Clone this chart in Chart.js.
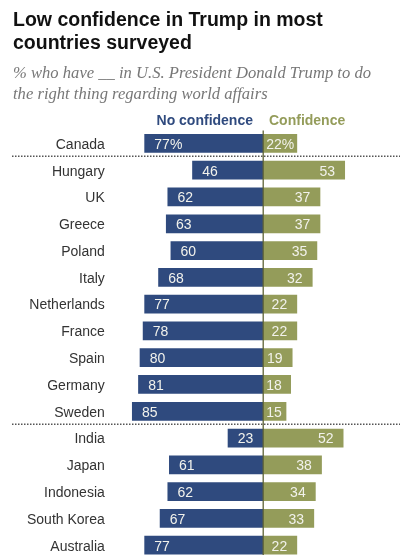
<!DOCTYPE html>
<html>
<head>
<meta charset="utf-8">
<script src="https://cdn.jsdelivr.net/npm/chart.js@4"></script>
<style>
  html, body { margin: 0; padding: 0; background: #fff; }
  #wrap { position: relative; width: 400px; height: 555px; overflow: hidden; }
  #chart { position: absolute; left: 0; top: 0; }
  .title { position: absolute; left: 13px; top: 8px; font-family: "Liberation Sans", Arial, sans-serif; font-weight: bold; font-size: 19.5px; line-height: 23.3px; color: #111; }
  .subtitle { position: absolute; left: 13px; top: 63px; font-family: "Liberation Serif", "DejaVu Serif", serif; font-style: italic; font-size: 16.6px; line-height: 20.5px; color: #777; }
  .hdr { position: absolute; top: 111px; font-family: "Liberation Sans", Arial, sans-serif; font-weight: bold; font-size: 14px; line-height: 18px; }
  .hdr.no { right: 147px; color: #2F4A7E; }
  .hdr.yes { left: 269px; color: #949C5A; }
</style>
</head>
<body>
<div id="wrap">
  <canvas id="chart" width="400" height="571"></canvas>
  <div class="title">Low confidence in Trump in most<br>countries surveyed</div>
  <div class="subtitle">% who have __ in U.S. President Donald Trump to do<br>the right thing regarding world affairs</div>
  <div class="hdr no">No confidence</div>
  <div class="hdr yes">Confidence</div>
</div>
<script>
const categories = ['Canada','Hungary','UK','Greece','Poland','Italy','Netherlands','France','Spain','Germany','Sweden','India','Japan','Indonesia','South Korea','Australia'];
const noConfidence = [77,46,62,63,60,68,77,78,80,81,85,23,61,62,67,77];
const confidence = [22,53,37,37,35,32,22,22,19,18,15,52,38,34,33,22];
const separatorsAfter = ['Canada','Sweden'];

const BLUE = '#2F4A7E';
const OLIVE = '#949C5A';

const valueLabels = {
  id: 'valueLabels',
  afterDatasetsDraw(chart) {
    const ctx = chart.ctx;
    ctx.save();
    ctx.font = '14px "Liberation Sans", Arial, sans-serif';
    ctx.fillStyle = '#F2F2EC';
    ctx.textBaseline = 'middle';
    const m0 = chart.getDatasetMeta(0);
    const m1 = chart.getDatasetMeta(1);
    m0.data.forEach((el, i) => {
      const t = noConfidence[i] + (i === 0 ? '%' : '');
      ctx.textAlign = 'left';
      ctx.fillText(t, el.x + 10, el.y + 1.5);
    });
    m1.data.forEach((el, i) => {
      const t = confidence[i] + (i === 0 ? '%' : '');
      const w = ctx.measureText(t).width;
      const x = Math.max(el.base + 3, el.x - 10 - w);
      ctx.textAlign = 'left';
      ctx.fillText(t, x, el.y + 1.5);
    });
    ctx.restore();
  }
};

const decorations = {
  id: 'decorations',
  afterDraw(chart) {
    const ctx = chart.ctx;
    const xs = chart.scales.x, ys = chart.scales.y;
    const area = chart.chartArea;
    ctx.save();
    ctx.strokeStyle = '#555';
    ctx.lineWidth = 1.5;
    ctx.setLineDash([1.5, 1.5]);
    separatorsAfter.forEach(name => {
      const i = categories.indexOf(name);
      const y = Math.round((ys.getPixelForValue(i) + ys.getPixelForValue(i + 1)) / 2) - 0.75;
      ctx.beginPath();
      ctx.moveTo(12, y);
      ctx.lineTo(400, y);
      ctx.stroke();
    });
    ctx.setLineDash([]);
    ctx.strokeStyle = '#5E6335';
    ctx.lineWidth = 1.3;
    const x0 = xs.getPixelForValue(0);
    ctx.beginPath();
    ctx.moveTo(x0, area.top + 0.5);
    ctx.lineTo(x0, area.bottom);
    ctx.stroke();
    ctx.restore();
  }
};

new Chart(document.getElementById('chart'), {
  type: 'bar',
  data: {
    labels: categories,
    datasets: [
      { label: 'No confidence', data: noConfidence.map(v => -v), backgroundColor: BLUE, borderWidth: 0 },
      { label: 'Confidence', data: confidence, backgroundColor: OLIVE, borderWidth: 0 }
    ]
  },
  options: {
    indexAxis: 'y',
    responsive: false,
    animation: false,
    devicePixelRatio: 1,
    layout: { padding: { top: 130, bottom: 2, left: 0, right: 0 } },
    datasets: { bar: { categoryPercentage: 1, barPercentage: 0.7 } },
    plugins: { legend: { display: false }, tooltip: { enabled: false }, title: { display: false } },
    scales: {
      x: { stacked: true, min: -100, max: 88.6, display: false },
      y: {
        stacked: true,
        grid: { display: false, drawTicks: false },
        border: { display: false },
        ticks: { color: '#333', padding: 4, labelOffset: 1.5, font: { family: '"Liberation Sans", Arial, sans-serif', size: 14 } },
        afterFit(scale) { scale.width = 108.8; }
      }
    }
  },
  plugins: [valueLabels, decorations]
});
</script>
</body>
</html>
